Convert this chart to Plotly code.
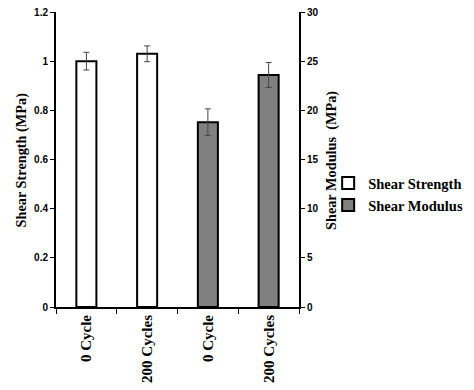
import plotly.graph_objects as go

categories = ["0 Cycle", "200 Cycles", "0 Cycle", "200 Cycles"]
strength_pos = [0, 1]
strength_vals = [1.0, 1.03]
strength_err = [0.036, 0.032]
modulus_pos = [2, 3]
modulus_vals = [18.8, 23.6]
modulus_err = [1.35, 1.27]
left_title = "Shear Strength (MPa)"
right_title = "Shear Modulus  (MPa)"

serif_cat = dict(family="Liberation Serif", size=15, color="black", weight="bold")
serif_title = dict(family="Liberation Serif", size=14.3, color="black", weight="bold")
serif_leg = dict(family="Liberation Serif", size=14.5, color="black", weight="bold")
sans = dict(family="Liberation Sans", size=10, color="black", weight="bold")

fig = go.Figure()
fig.add_trace(go.Bar(
    x=strength_pos, y=strength_vals, width=0.33, name="Shear Strength",
    marker=dict(color="white", line=dict(color="black", width=2)),
    error_y=dict(type="data", array=strength_err, color="#444", thickness=1, width=3),
    yaxis="y",
))
fig.add_trace(go.Bar(
    x=modulus_pos, y=modulus_vals, width=0.33, name="Shear Modulus",
    marker=dict(color="#808080", line=dict(color="black", width=2)),
    error_y=dict(type="data", array=modulus_err, color="#444", thickness=1, width=3),
    yaxis="y2",
))

fig.update_layout(
    width=474, height=390,
    margin=dict(l=56, r=175, t=12, b=83, autoexpand=False),
    paper_bgcolor="white", plot_bgcolor="white",
    barmode="overlay",
    showlegend=True,
    legend=dict(x=1.12, y=0.474, xanchor="left", yanchor="top", font=serif_leg,
                bgcolor="rgba(0,0,0,0)", itemwidth=30, tracegroupgap=4),
    xaxis=dict(
        range=[-0.5, 3.5], tickvals=[0, 1, 2, 3], ticktext=categories,
        tickangle=-90, ticks="", tickfont=serif_cat, showgrid=False, zeroline=False,
        showline=True, linecolor="black", linewidth=2, automargin=False,
        minor=dict(tickvals=[-0.5, 0.5, 1.5, 2.5, 3.5], ticks="outside",
                   ticklen=5, tickcolor="black", tickwidth=1, showgrid=False),
    ),
    yaxis=dict(
        range=[0, 1.2], tickvals=[0, 0.2, 0.4, 0.6, 0.8, 1.0, 1.2],
        ticktext=["0", "0.2", "0.4", "0.6", "0.8", "1", "1.2"],
        ticks="outside", ticklen=4, tickcolor="black", tickfont=sans,
        showgrid=False, zeroline=False, showline=True, linecolor="black", linewidth=2,
        automargin=False,
    ),
    yaxis2=dict(
        range=[0, 30], tickvals=[0, 5, 10, 15, 20, 25, 30],
        overlaying="y", side="right",
        ticks="outside", ticklen=4, tickcolor="black", tickfont=sans,
        showgrid=False, zeroline=False, showline=True, linecolor="black", linewidth=2,
        automargin=False,
    ),
    annotations=[
        dict(text=left_title, textangle=-90, xref="paper", yref="paper",
             x=-0.14, y=0.50, xanchor="center", yanchor="middle",
             showarrow=False, font=serif_title),
        dict(text=right_title, textangle=-90, xref="paper", yref="paper",
             x=1.136, y=0.495, xanchor="center", yanchor="middle",
             showarrow=False, font=serif_title),
    ],
)

fig.write_html("out.html")
